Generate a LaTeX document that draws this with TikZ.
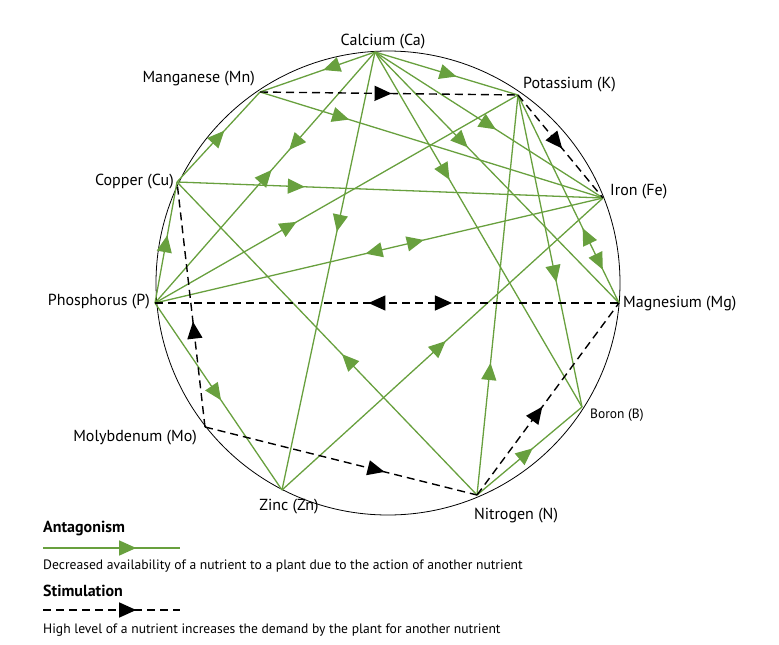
\documentclass[tikz,border=0pt]{standalone}
\usepackage{fontspec}
\setmainfont{PT Sans}
\usetikzlibrary{decorations.markings,arrows.meta}
\definecolor{grn}{RGB}{104,160,62}
\tikzset{
 ant/.style={draw=grn,line width=1.3pt},
 stim/.style={draw=black,line width=1.4pt,dash pattern=on 8pt off 5pt},
 fa/.style={postaction={decorate,decoration={markings,mark=at position #1 with {\arrow[fill=.]{Triangle[length=17pt,width=15pt]}}}}},
 ba/.style={postaction={decorate,decoration={markings,mark=at position #1 with {\arrowreversed[fill=.]{Triangle[length=17pt,width=15pt]}}}}},
 lab/.style={font=\fontsize{16}{18}\selectfont,inner sep=0pt},
 leg/.style={anchor=west,inner sep=0pt,font=\fontsize{13.6}{15}\selectfont}
}
\begin{document}
\begin{tikzpicture}[x=1pt,y=-1pt]
\useasboundingbox (0,0) rectangle (779,645);
\draw[line width=0.8pt] (388,283) circle (232);
\coordinate (Ca) at (375,52);
\coordinate (Mn) at (260,92);
\coordinate (K) at (518,95);
\coordinate (Cu) at (177,182);
\coordinate (Fe) at (603,198);
\coordinate (P) at (155,303);
\coordinate (Mg) at (619,303);
\coordinate (Mo) at (205,427);
\coordinate (B) at (582,407);
\coordinate (Zn) at (282,490);
\coordinate (N) at (477,495);
% antagonism
\draw[ant,fa=0.45] (Ca) -- (Mn);
\draw[ant,fa=0.57] (Ca) -- (K);
\draw[ant,fa=0.39,ba=0.47] (Ca) -- (P);
\draw[ant,fa=0.41] (Ca) -- (Zn);
\draw[ant,fa=0.53] (Ca) -- (Fe);
\draw[ant,fa=0.38] (Ca) -- (Mg);
\draw[ant,fa=0.36] (Ca) -- (B);
\draw[ant,fa=0.60] (K) -- (B);
\draw[ant,fa=0.26] (Mn) -- (Fe);
\draw[ant,fa=0.57] (Cu) -- (Mn);
\draw[ant,fa=0.39] (P) -- (K);
\draw[ant,fa=0.33] (N) -- (K);
\draw[ant,ba=0.64,fa=0.84] (K) -- (Mg);
\draw[ant,fa=0.30] (Cu) -- (Fe);
\draw[ant,fa=0.56] (P) -- (Cu);
\draw[ant,fa=0.45] (N) -- (Cu);
\draw[ant,ba=0.47,fa=0.60] (P) -- (Fe);
\draw[ant,fa=0.51] (Zn) -- (Fe);
\draw[ant,fa=0.52] (P) -- (Zn);
\draw[ant,fa=0.53] (N) -- (B);
% stimulation
\draw[stim,fa=0.51] (Mn) -- (K);
\draw[stim,fa=0.52] (K) -- (Fe);
\draw[stim,ba=0.46,fa=0.64] (P) -- (Mg);
\draw[stim,fa=0.43] (Mo) -- (Cu);
\draw[stim,fa=0.66] (Mo) -- (N);
\draw[stim,fa=0.46] (N) -- (Mg);
% labels
\node[lab,anchor=south] (lCa) at (383,49) {Calcium (Ca)};
\node[lab,anchor=east] (lMn) at (255,79) {Manganese (Mn)};
\node[lab,anchor=west] (lK) at (523,85) {Potassium (K)};
\node[lab,anchor=east] (lCu) at (174,182) {Copper (Cu)};
\node[lab,anchor=west] (lFe) at (610,192) {Iron (Fe)};
\node[lab,anchor=east] (lP) at (150,302) {Phosphorus (P)};
\node[lab,anchor=west] (lMg) at (623,304) {Magnesium (Mg)};
\node[lab,anchor=east] (lMo) at (197,438) {Molybdenum (Mo)};
\node[lab,anchor=west,font=\fontsize{13.5}{15}\selectfont] (lB) at (590,415) {Boron (B)};
\node[lab] (lZn) at (289,507) {Zinc (Zn)};
\node[lab] (lN) at (516,516) {Nitrogen (N)};
% legend
\node[lab,anchor=west,font=\bfseries\fontsize{16}{18}\selectfont] (la) at (43,529) {Antagonism};
\coordinate (a1) at (43,548); \coordinate (a2) at (180,548);
\draw[ant,fa=0.68] (a1) -- (a2);
\node[leg] (ta) at (43,566) {Decreased availability of a nutrient to a plant due to the action of another nutrient};
\node[lab,anchor=west,font=\bfseries\fontsize{16}{18}\selectfont] (ls) at (43,591) {Stimulation};
\coordinate (s1) at (43,610); \coordinate (s2) at (180,610);
\draw[stim,fa=0.68] (s1) -- (s2);
\node[leg] (ts) at (43,630) {High level of a nutrient increases the demand by the plant for another nutrient};
\end{tikzpicture}
\end{document}
